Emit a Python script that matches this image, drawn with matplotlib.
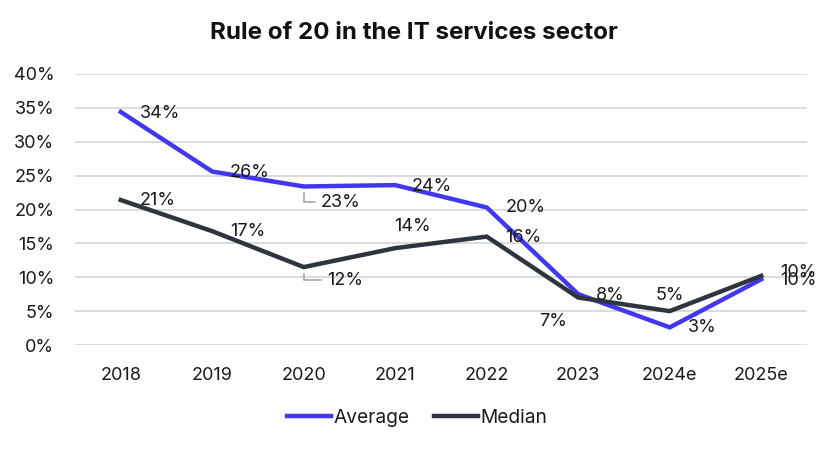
import matplotlib
matplotlib.use("Agg")
import matplotlib.pyplot as plt
from matplotlib.lines import Line2D

years = ["2018", "2019", "2020", "2021", "2022", "2023", "2024e", "2025e"]
average = [34.4, 25.6, 23.4, 23.6, 20.3, 7.5, 2.6, 9.7]
median = [21.4, 16.8, 11.5, 14.3, 16.0, 7.0, 5.0, 10.2]
average_labels = ["34%", "26%", "23%", "24%", "20%", "8%", "3%", "10%"]
median_labels = ["21%", "17%", "12%", "14%", "16%", "7%", "5%", "10%"]
yticks = [0, 5, 10, 15, 20, 25, 30, 35, 40]

BLUE = "#4138EE"
DARK = "#2F353F"
FONT = "Inter"

plt.rcParams["font.family"] = [FONT, "DejaVu Sans"]

fig = plt.figure(figsize=(8.3, 4.5), dpi=100)
ax = fig.add_axes([75 / 830, 1 - 345 / 450, (807 - 75) / 830, (345 - 74) / 450])

x = list(range(len(years)))
ax.plot(x, average, color=BLUE, lw=3.2, solid_joinstyle="miter", zorder=3)
ax.plot(x, median, color=DARK, lw=3.2, solid_joinstyle="miter", zorder=3)

ax.set_xlim(-0.5, 7.5)
ax.set_ylim(0, 40)
ax.set_yticks(yticks)
ax.set_yticklabels([f"{v}%" for v in yticks])
ax.set_xticks(x)
ax.set_xticklabels(years)
ax.grid(axis="y", color="#D9D9D9", lw=1.3, zorder=0)
ax.set_axisbelow(True)
for s in ax.spines.values():
    s.set_visible(False)
ax.tick_params(axis="both", length=0, labelsize=13, colors="#1a1a1a")
ax.tick_params(axis="y", pad=15)
ax.tick_params(axis="x", pad=16)

PX = 0.72  # points per pixel
# label center offsets in pixels (dx right, dy down)
avg_off = [(39, 1.5), (37.5, 1), (36.5, 15.7), (36.5, 1), (38.5, 0), (32, 1), (32.5, 0), (37.5, 1.5)]
med_off = [(36.5, 0), (36, 0), (41, 13), (17.5, -22), (37, 1), (-25.5, 24), (0, -16), (37.5, -3.5)]
leader = {2}

def label(series, labels, offs):
    for i, (v, t, (dx, dy)) in enumerate(zip(series, labels, offs)):
        kw = {}
        if i in leader:
            kw["arrowprops"] = dict(arrowstyle="-", color="#A6A6A6", lw=1.2,
                                    connectionstyle="angle,angleA=0,angleB=90,rad=0",
                                    shrinkA=2, shrinkB=5)
        ax.annotate(t, xy=(i, v), xytext=(dx * PX, -dy * PX), textcoords="offset points",
                    ha="center", va="center", fontsize=13, color="#1a1a1a", zorder=5, **kw)

label(average, average_labels, avg_off)
label(median, median_labels, med_off)

fig.text(414 / 830, 1 - 33 / 450, "Rule of 20 in the IT services sector",
         ha="center", va="center", fontsize=17.4, fontweight="bold", color="#111111")

handles = [Line2D([], [], color=BLUE, lw=3.2), Line2D([], [], color=DARK, lw=3.2)]
fig.legend(handles, ["Average", "Median"], loc="center", bbox_to_anchor=(417 / 830, 1 - 418 / 450),
           ncol=2, frameon=False, fontsize=13.8, handlelength=2.3, handletextpad=0.1,
           columnspacing=1.3, labelcolor="#1a1a1a")

fig.savefig("out.png", dpi=100, facecolor="white")
